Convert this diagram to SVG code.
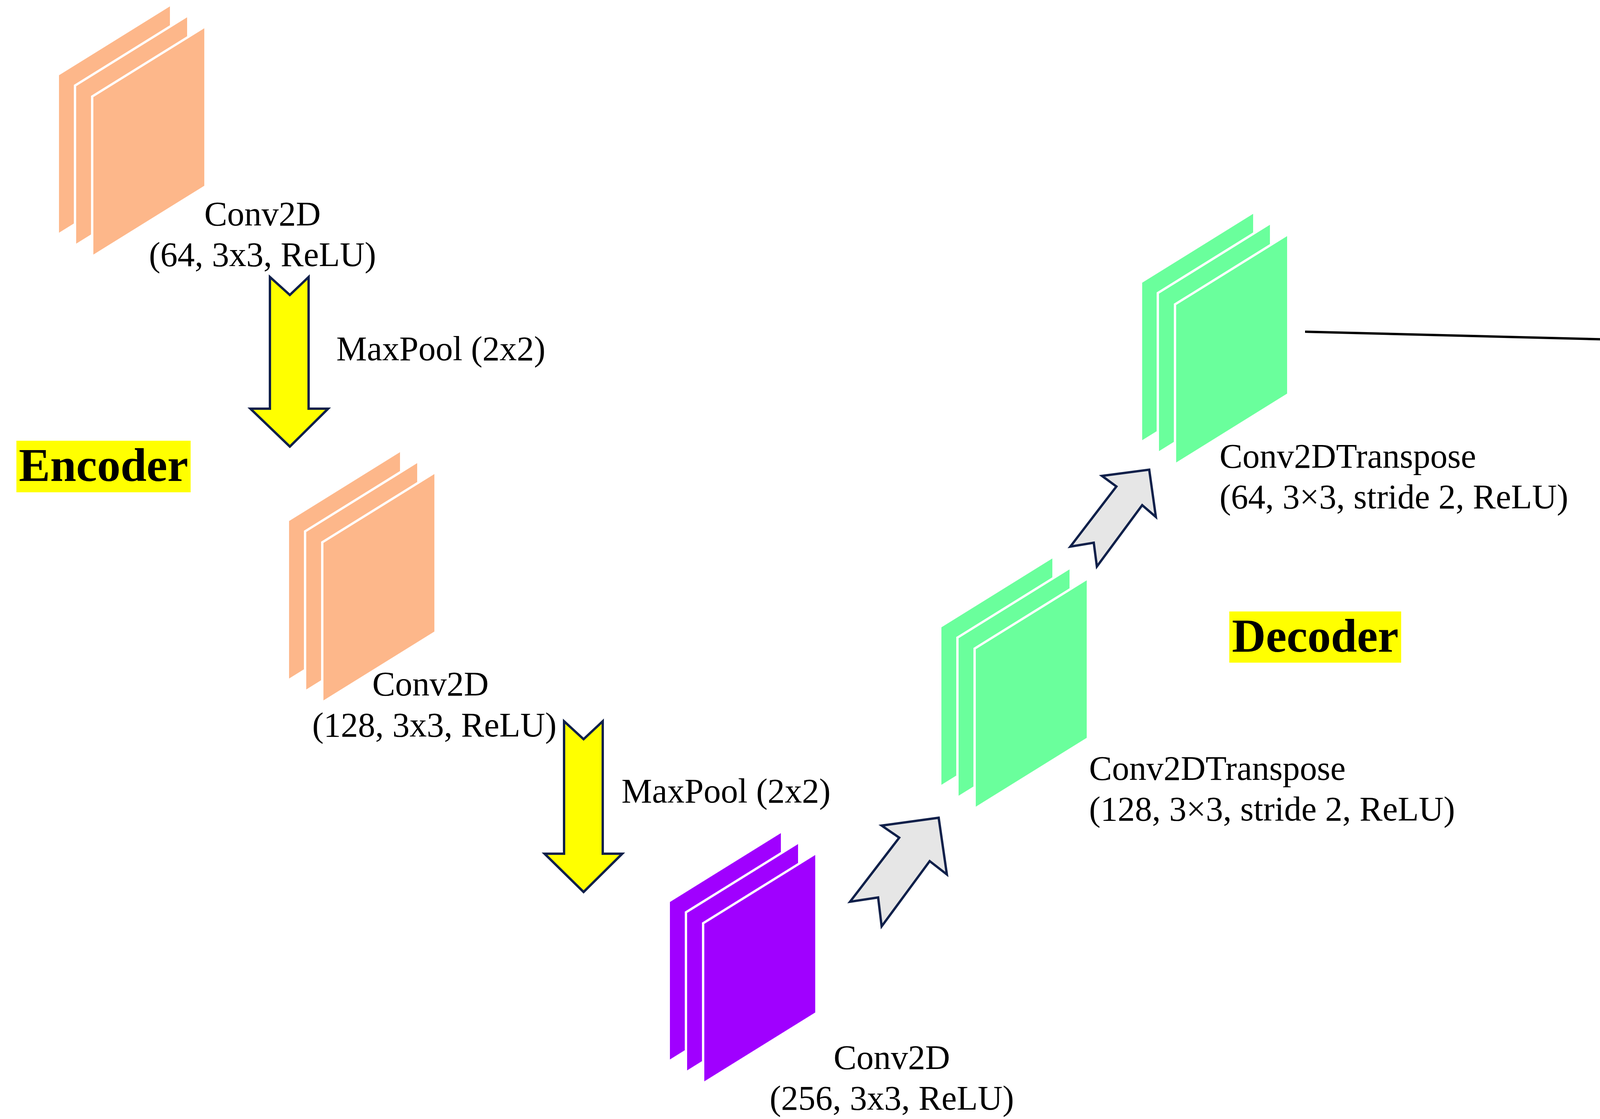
<svg xmlns="http://www.w3.org/2000/svg" width="5113" height="2864" viewBox="0 0 5113 2864">
<style>
text{font-family:"Liberation Serif","Times New Roman",serif;fill:#000}
.t{font-size:88px}
.b{font-weight:bold}
.big{font-size:120px;font-weight:bold}
.sheet{stroke:#fff;stroke-width:6;stroke-linejoin:miter}
.org{fill:#FDB78A}.pur{fill:#A000FF}.grn{fill:#6AFF9C}.mag{fill:#E0049A}
.ya{fill:#FFFF00;stroke:#10204A;stroke-width:6}
.ga{fill:#E6E6E6;stroke:#10204A;stroke-width:6}
</style>
<defs>
<polygon id="sh" points="0,0 290,-180 290,230 0,410"/>
<marker id="ah" viewBox="0 0 10 10" refX="9" refY="5" markerWidth="5" markerHeight="5" orient="auto"><path d="M0,0 L10,5 L0,10 z" fill="#000"/></marker>
</defs>
<rect width="5113" height="2864" fill="#fff"/>
<g id="stack1" class="sheet org">
<use href="#sh" x="148" y="191"/><use href="#sh" x="192" y="219"/><use href="#sh" x="236" y="247"/>
</g>
<g id="stack2" class="sheet org">
<use href="#sh" x="737" y="1332"/><use href="#sh" x="781" y="1360"/><use href="#sh" x="825" y="1388"/>
</g>
<g id="stack3" class="sheet pur">
<use href="#sh" x="1712" y="2307"/><use href="#sh" x="1756" y="2335"/><use href="#sh" x="1800" y="2363"/>
</g>
<g id="stack4" class="sheet grn">
<use href="#sh" x="2407" y="1604"/><use href="#sh" x="2451" y="1632"/><use href="#sh" x="2495" y="1660"/>
</g>
<g id="stack5" class="sheet grn">
<use href="#sh" x="2921" y="722"/><use href="#sh" x="2964" y="750"/><use href="#sh" x="3008" y="779"/>
</g>
<g id="stack6" class="sheet mag">
<use href="#sh" x="4209" y="704"/><use href="#sh" x="4252" y="732"/><use href="#sh" x="4296" y="761"/>
</g>
<g id="connectors">
<polygon class="ya" points="691,709 742,755 790,709 790,1046 840,1046 742,1143 641,1046 691,1046"/>
<polygon class="ya" points="1444,1846 1494,1892 1543,1846 1543,2185 1593,2185 1494,2283 1394,2185 1444,2185"/>
<polygon class="ga" points="2176,2308 2302,2144 2257,2113 2403,2093 2424,2238 2380,2204 2257,2371 2248,2297"/>
<polygon class="ga" points="2740,1399 2858,1245 2821,1218 2942,1202 2959,1323 2924,1293 2808,1450 2800,1389"/>
<line x1="3341" y1="849" x2="4164" y2="870" stroke="#000" stroke-width="6" marker-end="url(#ah)"/>
</g>
<g id="labels">
<text class="t" x="672" y="577" text-anchor="middle">Conv2D</text>
<text class="t" x="672" y="681" text-anchor="middle">(64, 3x3, ReLU)</text>
<text class="t" x="861" y="922">MaxPool (2x2)</text>
<text class="t" x="1102" y="1780" text-anchor="middle">Conv2D</text>
<text class="t" x="1112" y="1885" text-anchor="middle">(128, 3x3, ReLU)</text>
<text class="t" x="1591" y="2054">MaxPool (2x2)</text>
<text class="t" x="2283" y="2736" text-anchor="middle">Conv2D</text>
<text class="t" x="2283" y="2840" text-anchor="middle">(256, 3x3, ReLU)</text>
<text class="t" x="2788" y="1996">Conv2DTranspose</text>
<text class="t" x="2788" y="2100">(128, 3×3, stride 2, ReLU)</text>
<text class="t" x="3122" y="1197">Conv2DTranspose</text>
<text class="t" x="3122" y="1301">(64, 3×3, stride 2, ReLU)</text>
<text class="t b" x="4828" y="1154" text-anchor="middle">Reconstruction</text>
<text class="t" x="4828" y="1259" text-anchor="middle">Conv2D(3, <tspan class="b">1×1,</tspan></text>
<text class="t" x="4828" y="1363" text-anchor="middle"><tspan class="b">sigmoid</tspan>)</text>
</g>
<g id="encoder">
<rect x="42" y="1128" width="446" height="132" fill="#FFFF00"/>
<text class="big" x="265" y="1231" text-anchor="middle">Encoder</text>
</g>
<g id="decoder">
<rect x="3147" y="1565" width="440" height="131" fill="#FFFF00"/>
<text class="big" x="3367" y="1668" text-anchor="middle">Decoder</text>
</g>
</svg>
